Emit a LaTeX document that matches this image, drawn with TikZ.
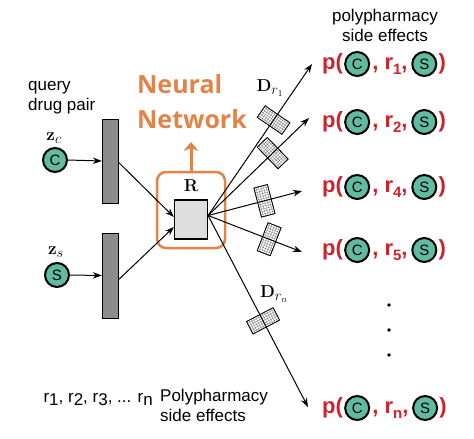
\documentclass[tikz,border=0pt]{standalone}
\usepackage[no-math]{fontspec}
\setmainfont{Liberation Sans}
\newfontfamily\nnfont{Open Sans}
\usepackage{xcolor}
\usetikzlibrary{arrows.meta,positioning}
\definecolor{drugfill}{RGB}{98,186,160}
\definecolor{probred}{RGB}{205,35,45}
\definecolor{nnorange}{RGB}{226,132,74}
\definecolor{bargray}{RGB}{140,140,140}

\begin{document}
\begin{tikzpicture}[x=1pt, y=-1pt,
  drug/.style={circle, draw, line width=2pt, fill=drugfill, minimum size=24pt, inner sep=0pt, font=\fontsize{15}{15}\selectfont},
  bar/.style={draw, fill=bargray, minimum width=16pt, minimum height=84pt, inner sep=0pt},
  rbox/.style={draw, line width=1.2pt, fill=black!13, minimum width=33pt, minimum height=39pt, inner sep=0pt},
  nnbox/.style={draw=nnorange, line width=2.5pt, rounded corners=9pt, minimum width=68pt, minimum height=76pt},
  nn/.style={text=nnorange, align=left, font=\nnfont\bfseries\fontsize{25}{35}\selectfont, inner sep=0pt},
  prob/.style={text=probred, font=\fontsize{22}{22}\bfseries\selectfont, inner sep=0pt, text height=16pt, text depth=5pt},
  lbl/.style={font=\fontsize{17}{20}\selectfont, inner sep=0pt},
  mathlbl/.style={font=\fontsize{19}{19}\selectfont, inner sep=0pt},
  edge/.style={draw, line width=1pt, -{Stealth[length=9pt,width=6.5pt]}},
  nnarrow/.style={draw=nnorange, line width=3pt, -{Stealth[length=9pt,width=15pt,inset=3pt]}},
  relmat/.pic={
    \draw[fill=white, line width=0.6pt] (-7pt,-15pt) rectangle (7pt,15pt);
    \draw[black!60, line width=0.25pt, step=2.5pt] (-7pt,-15pt) grid (7pt,15pt);
    \draw[line width=0.6pt] (-7pt,-15pt) rectangle (7pt,15pt);
  }
]
\useasboundingbox (0,0) rectangle (474,439);

% query drug pair
\node[lbl, align=left, anchor=west] (query) at (28,98) {query\\drug pair};
\node[mathlbl] (zc) at (54,138) {$\mathbf{z}_c$};
\node[mathlbl] (zs) at (56,252) {$\mathbf{z}_s$};
\node[drug] (drugc) at (55,160) {C};
\node[drug] (drugs) at (57,275) {S};
\node[bar] (bar1) at (110,161) {};
\node[bar, minimum height=85pt] (bar2) at (110,275.5) {};

% relation model
\node[nnbox] (nnbox) at (191,210) {};
\node[rbox] (R) at (191,219.5) {};
\node[mathlbl] (rlabel) at (191,186) {$\mathbf{R}$};
\node[nn] (nn) at (192,102) {Neural\\Network};
\coordinate (nntip) at (191,142);
\coordinate (hub) at ([yshift=4pt]R.east);

\draw[edge] (drugc.east) -- (bar1.west);
\draw[edge] (drugs.east) -- (bar2.west);
\draw[edge] ([yshift=-1pt]bar1.east) -- ([yshift=2.5pt]R.west);
\draw[edge] ([yshift=-4.5pt]bar2.east) -- ([yshift=-7.5pt]R.west);
\draw[nnarrow] (nnbox.north) -- (nntip);

% polypharmacy side effects
\node[lbl, align=center] (head) at (385,25) {polypharmacy\\side effects};
\foreach \r/\y in {1/64, 2/122, 4/187, 5/250, n/408} {
  \node[prob, anchor=west] (p\r) at (322,\y) {p(};
  \node[drug, right=1pt of p\r] (c\r) {C};
  \node[prob, right=2pt of c\r] (r\r) {,\ r\raisebox{-5pt}{\fontsize{15}{15}\bfseries\selectfont\r},};
  \node[drug, right=3.5pt of r\r] (s\r) {S};
  \node[prob, right=1pt of s\r] (q\r) {)};
}
\foreach \r/\gap/\dy/\pp in {1/10/0/0.63, 2/13/4/0.64, 4/20/-4/0.6, 5/20/-2/0.65, n/14/1/0.55} {
  \path (hub) -- ([xshift=-\gap pt, yshift=\dy pt]p\r.west) pic[pos=\pp, sloped] {relmat};
  \draw[edge] (hub) -- ([xshift=-\gap pt, yshift=\dy pt]p\r.west);
}
\node[mathlbl] (dr1) at (270,88) {$\mathbf{D}_{r_1}$};
\node[mathlbl] (drn) at (274,294) {$\mathbf{D}_{r_n}$};
\foreach \y in {305,330,355}
  \fill (389,\y) circle (1.8pt);

% legend
\node[lbl, anchor=east] (rlist) at (153,400) {r\raisebox{-3pt}{1}, r\raisebox{-3pt}{2}, r\raisebox{-3pt}{3}, ... r\raisebox{-3pt}{n}};
\node[lbl, align=left, anchor=west] (legend) at (160,405) {Polypharmacy\\side effects};
\end{tikzpicture}
\end{document}
